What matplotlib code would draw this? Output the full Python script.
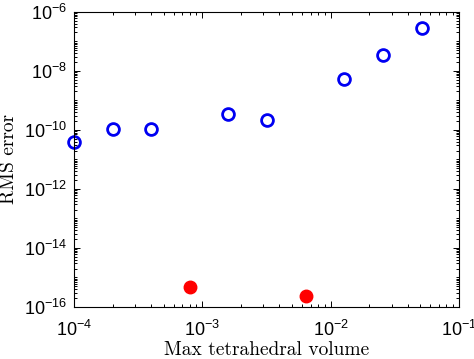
import matplotlib
matplotlib.use("Agg")
import matplotlib.pyplot as plt
from matplotlib.ticker import LogLocator, NullFormatter, FuncFormatter
import numpy as np

# Max tetrahedral volume vs RMS error
volBlue = [1.0e-4, 2.0e-4, 4.0e-4, 1.6e-3, 3.2e-3, 1.28e-2, 2.56e-2, 5.12e-2]
errBlue = [3.9e-11, 1.1e-10, 1.05e-10, 3.5e-10, 2.2e-10, 5.4e-9, 3.5e-8, 2.9e-7]
volRed = [8.0e-4, 6.4e-3]
errRed = [4.8e-16, 2.35e-16]

plt.rcParams['mathtext.fontset'] = 'custom'
plt.rcParams['mathtext.rm'] = 'Liberation Sans'
plt.rcParams['mathtext.it'] = 'Liberation Sans'
plt.rcParams['mathtext.default'] = 'regular'
plt.rcParams['font.family'] = ['Liberation Sans', 'DejaVu Sans']
plt.rcParams['axes.unicode_minus'] = False

fig = plt.figure(figsize=(4.74, 3.59), dpi=100)
ax = fig.add_axes([0.156, 0.145, 0.812, 0.822])

ax.plot(volBlue, errBlue, 'o', mfc='none', mec=(0, 0, 0.95), mew=2, ms=8.5, clip_on=False)
ax.plot(volRed, errRed, 'o', color=(1, 0, 0), ms=9, clip_on=False)

ax.set_xscale('log')
ax.set_yscale('log')
ax.set_xlim(1e-4, 1e-1)
ax.set_ylim(1e-16, 1e-6)
ax.set_yticks([10.0**k for k in range(-16, -5, 2)])
ax.set_xticks([1e-4, 1e-3, 1e-2, 1e-1])
ax.xaxis.set_minor_locator(LogLocator(base=10, subs=range(2, 10), numticks=20))
ax.yaxis.set_minor_locator(LogLocator(base=10, subs=range(1, 10), numticks=30))
ax.xaxis.set_minor_formatter(NullFormatter())
ax.yaxis.set_minor_formatter(NullFormatter())

def powFmt(v, pos):
    return r'$10^{-%d}$' % round(-np.log10(v))

ax.xaxis.set_major_formatter(FuncFormatter(powFmt))
ax.yaxis.set_major_formatter(FuncFormatter(powFmt))

ax.tick_params(which='both', direction='in', top=True, right=True, labelsize=13, width=0.7)
ax.tick_params(which='major', length=4)
ax.tick_params(which='minor', length=2)
ax.tick_params(axis='x', pad=9)
ax.tick_params(axis='y', pad=5)
for s in ax.spines.values():
    s.set_linewidth(0.8)

ax.set_xlabel('Max tetrahedral volume', fontfamily='cmr10', fontsize=14, labelpad=1)
ax.set_ylabel('RMS error', fontfamily='cmr10', fontsize=14, labelpad=4)

fig.savefig('out.png', dpi=100)
